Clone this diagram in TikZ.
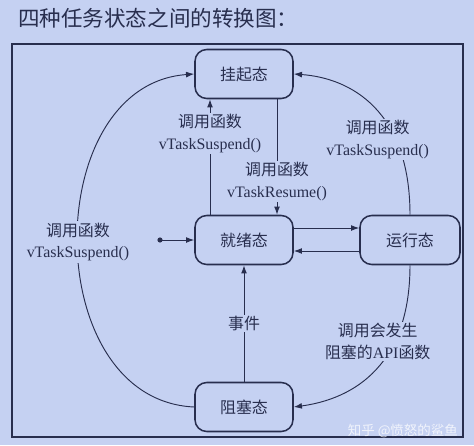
\documentclass[tikz,border=0pt]{standalone}
\usepackage{fontspec}
\setmainfont{Liberation Serif}
\newfontfamily\cjk{Noto Sans CJK SC}
\usetikzlibrary{calc,arrows.meta}
\definecolor{bgblue}{RGB}{197,209,242}
\definecolor{ink}{RGB}{40,46,78}

\begin{document}
\begin{tikzpicture}[x=0.03cm, y=-0.03cm,
  state/.style={draw=ink, line width=1.3pt, rounded corners=10pt,
    minimum width=2.94cm, minimum height=1.47cm,
    font=\cjk\fontsize{13.6}{16}\selectfont, text=ink},
  lbl/.style={fill=bgblue, inner sep=1pt, align=center,
    font=\fontsize{13.6}{18.7}\selectfont, text=ink},
  arr/.style={draw=ink, line width=0.8pt, -{Latex[length=7pt,width=5pt]}}]
\fill[bgblue] (0,0) rectangle (474,445);
\node[anchor=west, font=\cjk\fontsize{18.4}{20}\selectfont, text=ink] (title) at (14,18) {四种任务状态之间的转换图：};
\draw[ink, line width=1.2pt] (12,44) rectangle (463,437);

\node[state] (gq) at (244,74) {挂起态};
\node[state] (jx) at (244,240) {就绪态};
\node[state, minimum width=3cm] (yx) at (410,240) {运行态};
\node[state] (zs) at (244,407) {阻塞态};

\coordinate (init) at (160,240);
\fill[ink] (init) circle (2.2pt);
\draw[arr] (init) -- (jx);

\draw[arr] ($(jx.north)+(-34,0)$) -- node[lbl, pos=0.7] {{\cjk 调用函数}\\vTaskSuspend()} ($(gq.south)+(-34,0)$);
\draw[arr] ($(gq.south)+(33,0)$) -- node[lbl, pos=0.71] {{\cjk 调用函数}\\vTaskResume()} ($(jx.north)+(33,0)$);
\draw[arr] ($(jx.east)+(0,-12)$) -- ($(yx.west)+(0,-12)$);
\draw[arr] ($(yx.west)+(0,11)$) -- ($(jx.east)+(0,11)$);
\draw[arr] (zs) -- node[lbl] {\cjk 事件} (jx);

\draw[arr] (zs.west) .. controls +(-155,-7) and +(-155,11) .. node[lbl] {{\cjk 调用函数}\\vTaskSuspend()} (gq.west);
\draw[arr] (yx.north) .. controls +(0,-104) and +(57,4) .. node[lbl, pos=0.3, xshift=-0.54cm] {{\cjk 调用函数}\\vTaskSuspend()} (gq.east);
\draw[arr] (yx.south) .. controls +(0,107) and +(52,-7) .. node[lbl, pos=0.3, xshift=-0.51cm] {{\cjk 调用会发生}\\{\cjk 阻塞的}API{\cjk 函数}} (zs.east);

\node[anchor=east, font=\cjk\fontsize{11.5}{12}\selectfont, text=white, opacity=0.75] (wm) at (462,431) {知乎 @愤怒的鲨鱼};
\end{tikzpicture}
\end{document}
